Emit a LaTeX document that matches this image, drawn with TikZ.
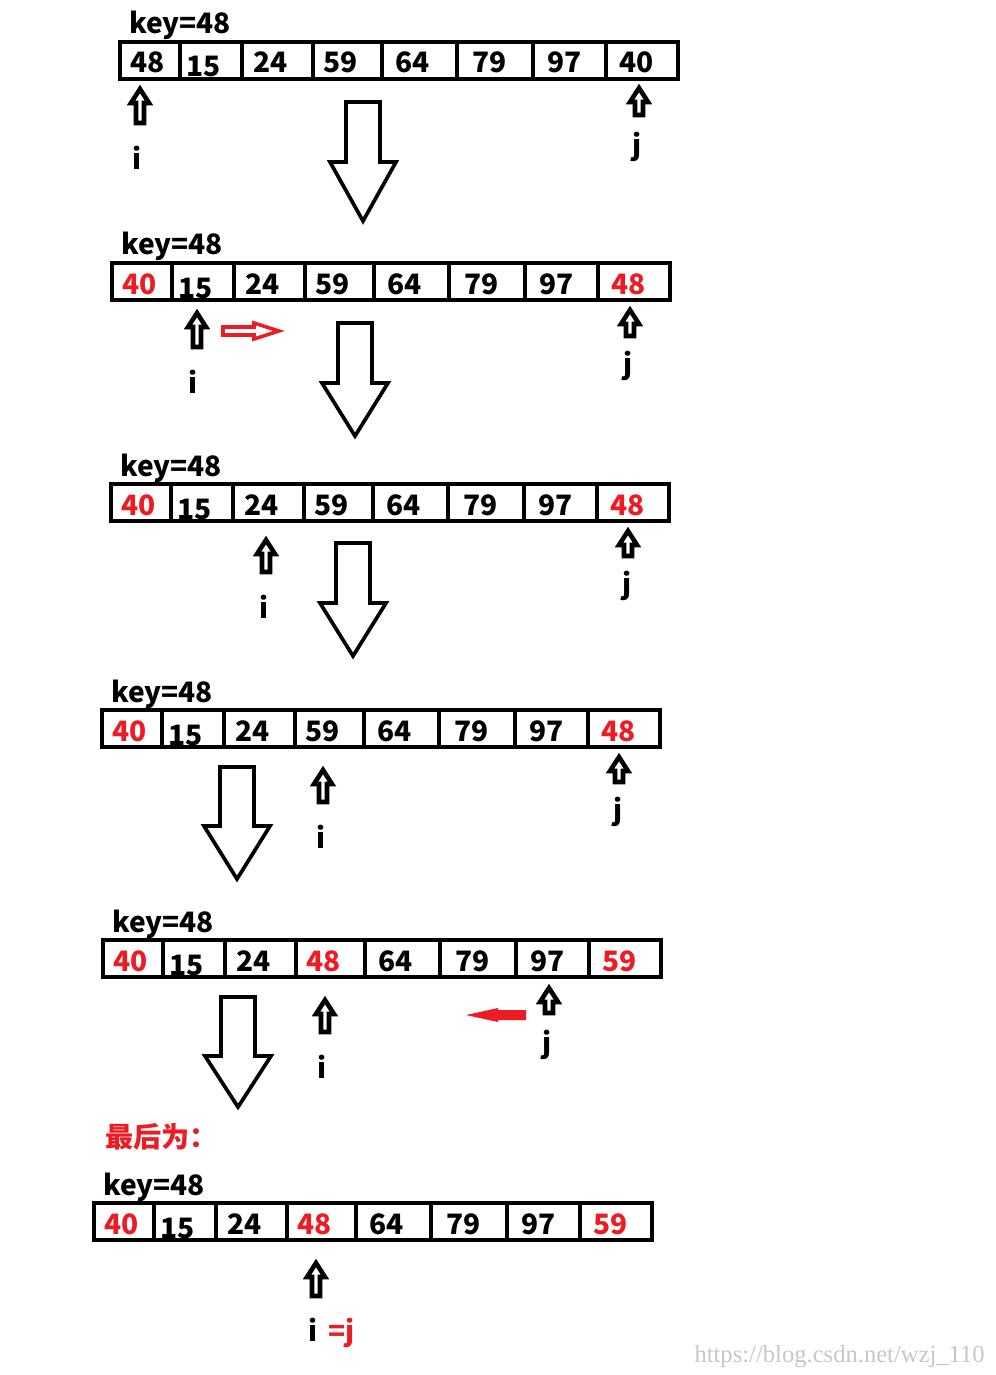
\documentclass[tikz,border=0pt]{standalone}
\usepackage{fontspec}
\setmainfont{Noto Sans CJK SC}
\newfontfamily\wmfont{Liberation Serif}
\usepackage{tikz}
\usetikzlibrary{calc}
\definecolor{hl}{RGB}{237,28,36}
\tikzset{
  rowbox/.style={line width=2.8pt},
  celldiv/.style={line width=2.3pt},
  blockline/.style={line width=2.6pt, line join=miter},
  bigline/.style={line width=2.1pt, line join=miter},
  numtext/.style={font=\bfseries\fontsize{16}{16}\selectfont, anchor=base west, inner sep=0pt},
  ijtext/.style={font=\bfseries\fontsize{16}{16}\selectfont, anchor=base, inner sep=0pt}
}
% one row of eight cells: name, left, top, values
\newcommand{\numrow}[4]{%
  \draw[rowbox] (#2,#3) rectangle ++(558,37);
  \foreach \d in {60,122,193,262,337,413,486}
    \draw[celldiv] (#2+\d,#3) -- ++(0,37);
  \foreach \v/\c [count=\k] in {#4}{
    \pgfmathsetmacro\off{{0,60,122,193,262,337,413,486}[\k-1]+{10,6,11,10,13,15,14,13}[\k-1]}
    \pgfmathsetmacro\dn{\k==2 ? 35 : 31}
    \node[numtext, text=\c] (#1c\k) at (#2+\off,#3+\dn) {\v};
  }
  \node[numtext] (#1key) at (#2+9,#3-8) {key=48};
}
% small hollow arrow: x, tip, bottom
\newcommand{\upblock}[3]{%
  \draw[blockline] (#1,#2) -- (#1+9,#2+14) -- (#1+4,#2+14) -- (#1+4,#3) -- (#1-4,#3) -- (#1-4,#2+14) -- (#1-9,#2+14) -- cycle;}
% big hollow arrow: x, top, head base, tip
\newcommand{\downblock}[4]{%
  \draw[bigline] (#1-17,#2) -- (#1+17,#2) -- (#1+17,#3) -- (#1+33,#3) -- (#1,#4) -- (#1-33,#3) -- (#1-17,#3) -- cycle;}

\begin{document}
\begin{tikzpicture}[x=0.02cm, y=-0.02cm]
  \useasboundingbox (0,0) rectangle (996,1375);
  %%%%% START %%%%%

  %% row 1
  \numrow{r1}{120}{42}{48/black,15/black,24/black,59/black,64/black,79/black,97/black,40/black}
  \upblock{140}{89}{123}
  \upblock{639}{88}{115}
  \node[ijtext] (r1i) at (137,170) {i};
  \node[ijtext] (r1j) at (637,156) {j};
  \downblock{363}{102}{162}{221}

  %% row 2
  \numrow{r2}{112}{263}{40/hl,15/black,24/black,59/black,64/black,79/black,97/black,48/hl}
  \upblock{197}{313}{347}
  \upblock{630}{310}{336}
  \node[ijtext] (r2i) at (193,393) {i};
  \node[ijtext] (r2j) at (628,374) {j};
  \draw[line width=2pt, hl, line join=miter] (223,327) -- (254,327) -- (254,323) -- (279,331) -- (254,339) -- (254,335) -- (223,335) -- cycle;
  \downblock{355}{323}{383}{436}

  %% row 3
  \numrow{r3}{111}{484}{40/hl,15/black,24/black,59/black,64/black,79/black,97/black,48/hl}
  \upblock{266}{540}{572}
  \upblock{628}{531}{556}
  \node[ijtext] (r3i) at (264,618) {i};
  \node[ijtext] (r3j) at (627,594) {j};
  \downblock{353}{543}{603}{656}

  %% row 4
  \numrow{r4}{102}{710}{40/hl,15/black,24/black,59/black,64/black,79/black,97/black,48/hl}
  \upblock{323}{770}{802}
  \upblock{619}{757}{782}
  \node[ijtext] (r4i) at (321,848) {i};
  \node[ijtext] (r4j) at (618,820) {j};
  \downblock{237}{767}{826}{879}

  %% row 5
  \numrow{r5}{103}{940}{40/hl,15/black,24/black,48/hl,64/black,79/black,97/black,59/hl}
  \upblock{325}{1000}{1032}
  \upblock{549}{988}{1013}
  \node[ijtext] (r5i) at (322,1078) {i};
  \node[ijtext] (r5j) at (547,1053) {j};
  \fill[hl] (526,1010) -- (498,1010) -- (498,1008) -- (466,1015) -- (498,1022) -- (498,1020) -- (526,1020) -- cycle;
  \downblock{238}{997}{1056}{1107}

  \node[numtext, text=hl] (last) at (105,1147) {最后为：};

  %% row 6
  \numrow{r6}{94}{1203}{40/hl,15/black,24/black,48/hl,64/black,79/black,97/black,59/hl}
  \upblock{316}{1263}{1296}
  \node[ijtext] (r6i) at (313,1341) {i};
  \node[ijtext, text=hl, anchor=base west] (r6j) at (328,1341) {=j};

  \node[font=\wmfont\fontsize{14}{14}\selectfont, text=black!22, anchor=base east, inner sep=0pt] (wm) at (985,1362) {https://blog.csdn.net/wzj\_110};

  %%%%% END %%%%%
\end{tikzpicture}
\end{document}
